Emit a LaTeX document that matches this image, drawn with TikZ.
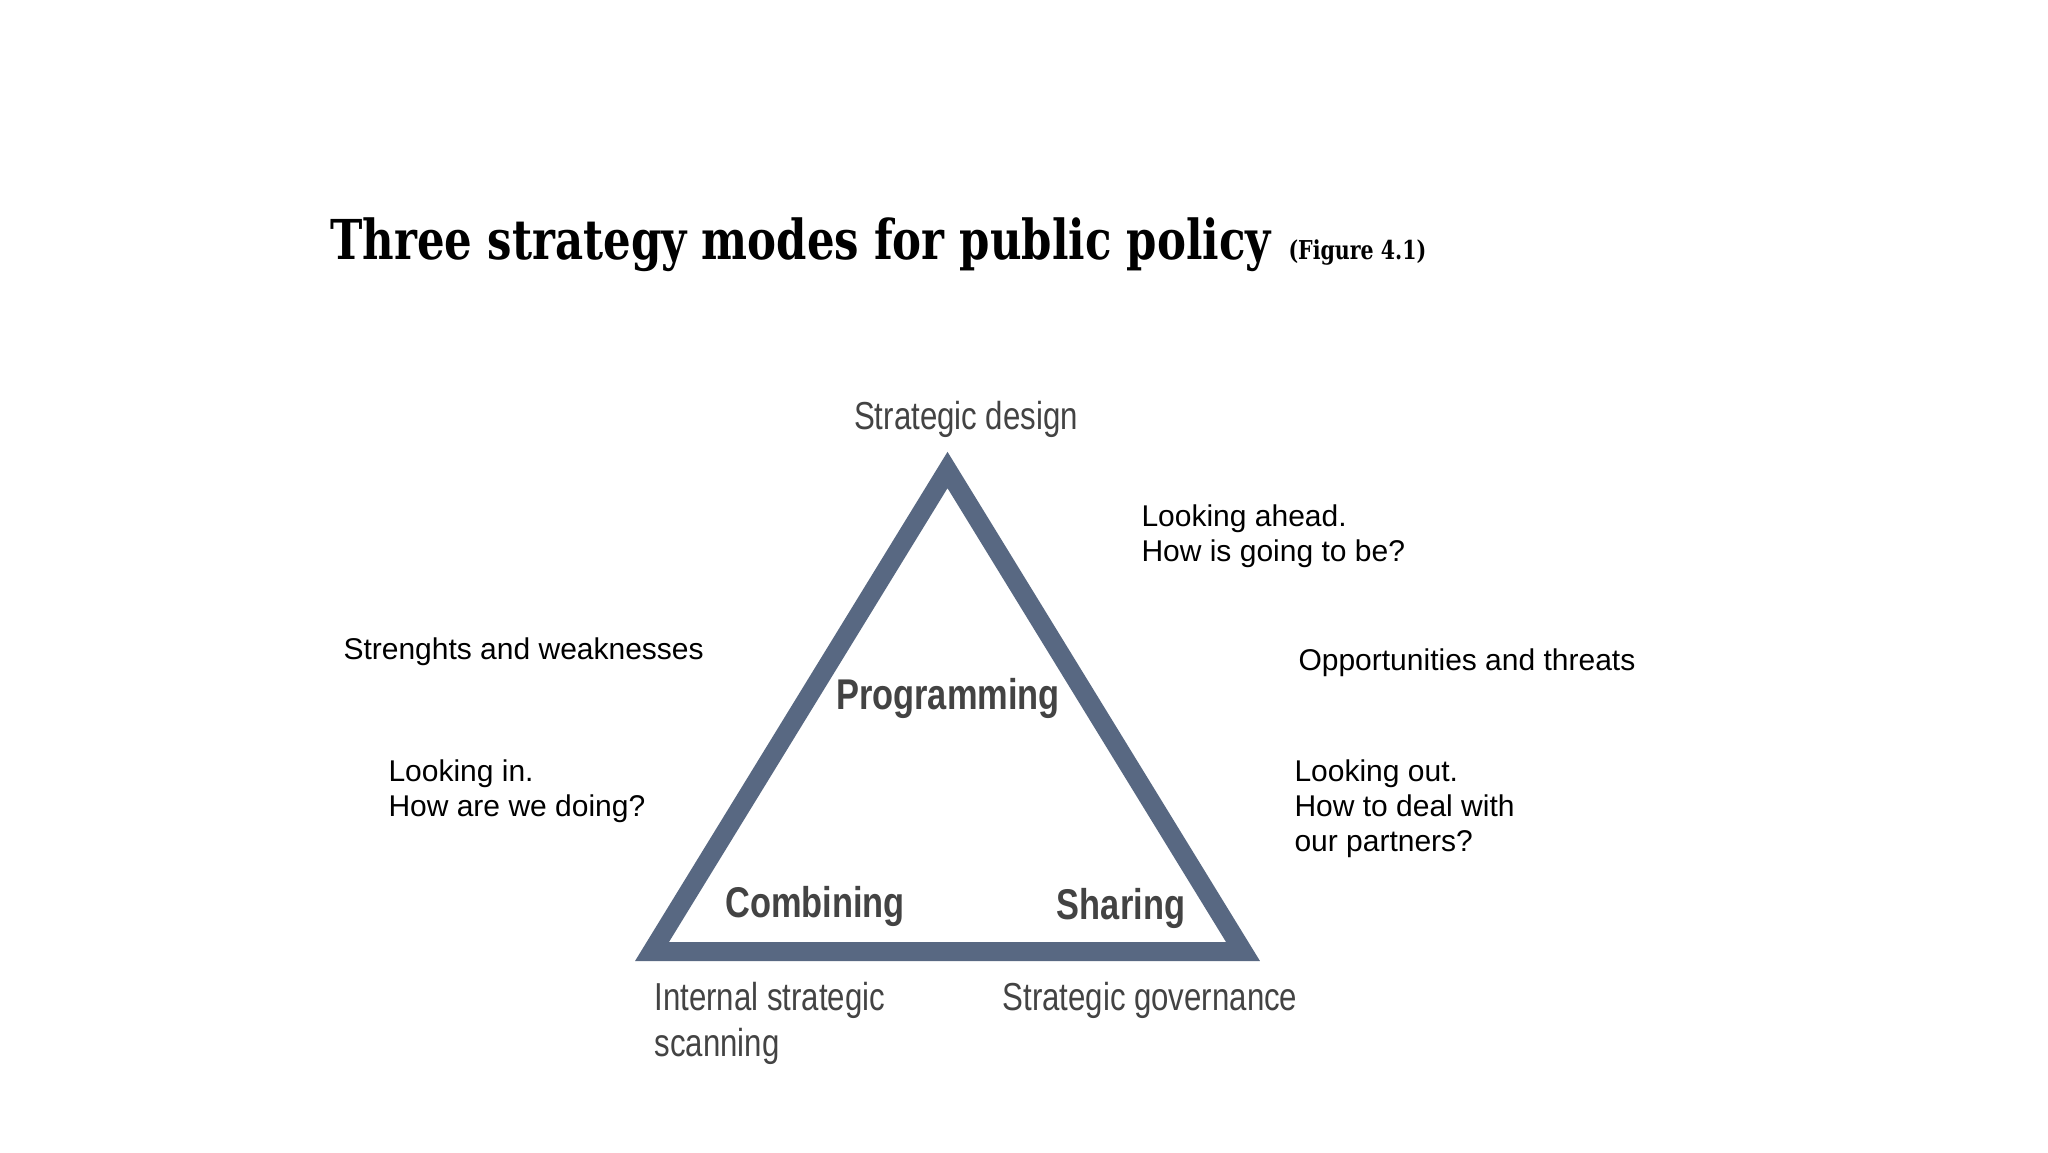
\documentclass[tikz,border=0pt]{standalone}
\usepackage{fontspec}
\setmainfont{Liberation Sans}
\newfontfamily\titlefont[FakeStretch=0.79]{DejaVu Serif}
\newfontfamily\narrowfont[FakeStretch=0.8]{Liberation Sans}
\definecolor{slate}{RGB}{88,104,130}
\definecolor{labelgray}{RGB}{67,67,67}

\tikzset{every picture/.style={line width=0.5pt}}
\tikzset{
  note/.style={anchor=north west, inner sep=0pt, align=left, font={\fontsize{15}{17.5}\selectfont}},
  corner/.style={inner sep=0pt, text=labelgray, align=left, font={\narrowfont\fontsize{19.5}{23}\selectfont}},
  mode/.style={anchor=north, inner sep=0pt, text=labelgray, font={\narrowfont\bfseries\fontsize{21.5}{25}\selectfont}},
}

\begin{document}
\begin{tikzpicture}[x=0.5pt,y=0.5pt,yscale=-1,xscale=1]
\useasboundingbox (0,0) rectangle (2048,1152);
\fill [white] (0,0) rectangle (2048,1152);

% Title
\node [anchor=base west, inner sep=0pt, font={\titlefont\bfseries\fontsize{27.5}{33}\selectfont}] (title) at (330,259) {Three strategy modes for public policy};
\node [anchor=base west, inner sep=0pt, font={\titlefont\bfseries\fontsize{13}{16}\selectfont}] (figref) at (1288,259) {(Figure 4.1)};

%Triangle
\coordinate (apex) at (947.5,470);
\coordinate (left) at (652,951.5);
\coordinate (right) at (1243,951.5);
\draw [slate, line width=9.5pt, line join=miter] (apex) -- (left) -- (right) -- cycle;

% Corner labels
\node [corner, anchor=north] (design) at (966,401) {Strategic design};
\node [corner, anchor=north west] (scanning) at (654,982) {Internal strategic\\scanning};
\node [corner, anchor=north west] (governance) at (1002,982) {Strategic governance};

% Mode labels
\node [mode] (programming) at (948,678) {Programming};
\node [mode] (combining) at (815,886) {Combining};
\node [mode] (sharing) at (1121,888) {Sharing};

% Text Node
\node [note] (ahead) at (1141,504) {Looking ahead.\\How is going to be?};
% Text Node
\node [note] (strengths) at (343,637) {Strenghts and weaknesses};
% Text Node
\node [note] (opportunities) at (1298,648) {Opportunities and threats};
% Text Node
\node [note] (lookin) at (388,759) {Looking in.\\How are we doing?};
% Text Node
\node [note] (lookout) at (1294,759) {Looking out.\\How to deal with\\our partners?};
\end{tikzpicture}
\end{document}
